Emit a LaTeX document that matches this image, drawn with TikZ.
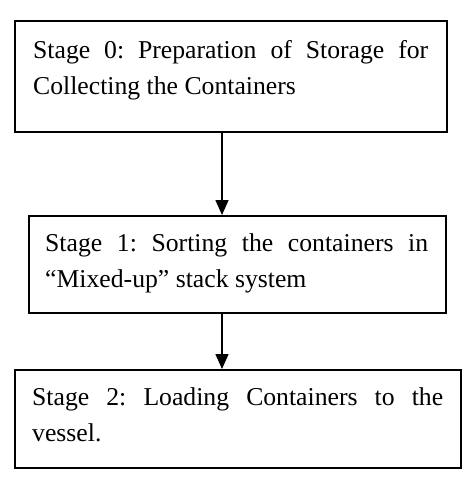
\documentclass[tikz,border=0pt]{standalone}
\usepackage{fontspec}
\setmainfont{Liberation Serif}
\usetikzlibrary{arrows.meta}
\frenchspacing
\begin{document}
\begin{tikzpicture}[x=1pt,y=-1pt,
  stagebox/.style={draw, line width=1.6pt, inner sep=0pt, anchor=north west},
  linetext/.style={anchor=base west, inner sep=0pt, font=\fontsize{25.7}{30}\selectfont},
  flow/.style={line width=1.6pt, -{Triangle[width=13pt,length=15pt]}}]
\useasboundingbox (0,0) rectangle (474,485);
% boxes
\node[stagebox, minimum width=432pt, minimum height=111pt] (box0) at (14,20) {};
\node[stagebox, minimum width=417pt, minimum height=97pt] (box1) at (28,215) {};
\node[stagebox, minimum width=446pt, minimum height=98pt] (box2) at (14,369) {};
% texts
\node[linetext] (t0a) at (33,58) {\makebox[395pt][s]{Stage 0: Preparation of Storage for}};
\node[linetext] (t0b) at (33,94) {Collecting the Containers};
\node[linetext] (t1a) at (45,251) {\makebox[383pt][s]{Stage 1: Sorting the containers in}};
\node[linetext] (t1b) at (45,287) {“Mixed-up” stack system};
\node[linetext] (t2a) at (32,405) {\makebox[411pt][s]{Stage 2: Loading Containers to the}};
\node[linetext] (t2b) at (32,441) {vessel.};
% connectors
\coordinate (ax) at (222,0);
\draw[flow] (box0.south -| ax) -- (box1.north -| ax);
\draw[flow] (box1.south -| ax) -- (box2.north -| ax);
\end{tikzpicture}
\end{document}
